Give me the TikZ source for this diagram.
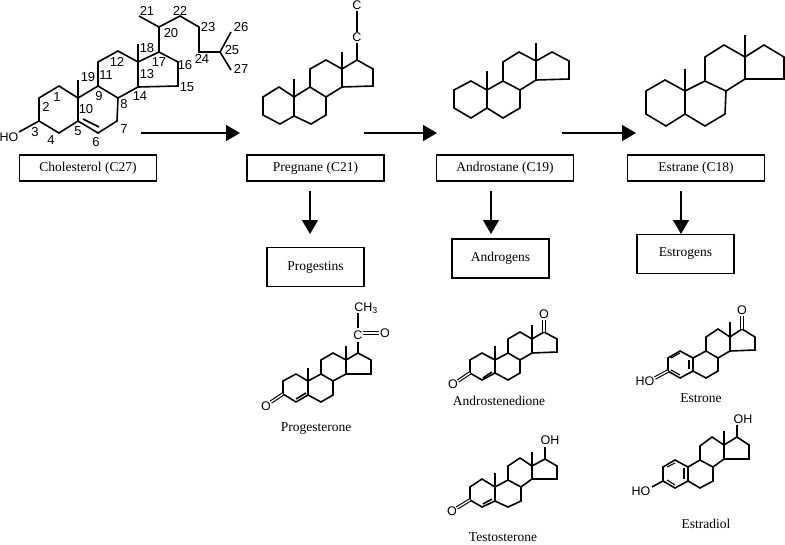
\documentclass[tikz,border=0pt]{standalone}
\usepackage{fontspec}
\setmainfont{Liberation Serif}
\setsansfont{Liberation Sans}
\usetikzlibrary{arrows.meta}
\tikzset{
  box/.style={draw,line width=1.4pt,minimum height=26pt,inner sep=0pt,font=\fontsize{13.5}{14}\selectfont},
  wide/.style={box,minimum width=137pt},
  small/.style={box,minimum width=97pt,minimum height=39pt},
  cpd/.style={inner sep=0pt,font=\fontsize{13.5}{14}\selectfont},
  num/.style={inner sep=0pt,font=\sffamily\fontsize{13}{14}\selectfont},
  atom/.style={inner sep=0pt,font=\sffamily\fontsize{12.5}{13}\selectfont},
  bond/.style={line width=1.6pt,line join=miter},
  thin bond/.style={line width=1.1pt},
  heavy/.style={line width=2.4pt},
  dbl/.style={double,double distance=1.3pt,line width=1.1pt},
  flow/.style={line width=1.4pt,-{Triangle[length=14pt,width=16pt]}}
}
\begin{document}
\begin{tikzpicture}[x=1pt,y=-1pt]
  \useasboundingbox (0,0) rectangle (785,544);

  % Cholesterol
  \draw[bond] (39,121) -- (39,98) -- (59,86) -- (78,98) -- (78,121) -- (59,133) -- cycle;
  \draw[bond] (78,121) -- (98,133) -- (117,121) -- (118,98) -- (98,86) -- (78,98);
  \draw[bond] (98,86) -- (98,62) -- (118,51) -- (138,62) -- (138,87) -- (118,98);
  \draw[bond] (138,62) -- (159,52) -- (178,62) -- (178,86) -- (138,87);
  \draw[heavy] (138,62) -- (138,87);
  \draw[bond] (83,119) -- (99,127);
  \draw[thin bond] (78,98) -- (78,80);
  \draw[thin bond] (138,62) -- (138,44);
  \draw[bond] (159,52) -- (159,27) -- (139,16);
  \draw[bond] (159,27) -- (180,16) -- (199,27) -- (199,52) -- (220,52) -- (231,32);
  \draw[bond] (220,52) -- (231,70);
  \draw[bond] (39,121) -- (19,132);
  \node[atom] (cholOH) at (9,137) {HO};
  \foreach \lab/\px/\py in {1/57/97,2/46/107,3/35/132,4/51/140,5/78/131,6/96/142,7/124/129,
      8/124/104,9/99/96,10/86/109,11/106/75,12/117/62,13/147/74,14/140/96,15/187/87,
      16/185/65,17/159/62,18/147/48,19/88/77,20/171/33,21/147/11,22/180/11,23/208/27,
      24/202/59,25/232/50,26/241/27,27/241/69}
    \node[num] (n\lab) at (\px,\py) {\lab};

  % Pregnane
  \draw[bond] (263,97) -- (279,87) -- (294,97) -- (294,116) -- (280,124) -- (263,115) -- cycle;
  \draw[bond] (294,97) -- (310,87) -- (326,97) -- (326,115) -- (311,124) -- (294,116);
  \draw[bond] (310,87) -- (310,69) -- (326,60) -- (342,69) -- (342,87) -- (326,97);
  \draw[bond] (342,69) -- (357,60) -- (373,69) -- (373,86) -- (342,87) -- cycle;
  \draw[thin bond] (294,97) -- (294,79);
  \draw[thin bond] (342,69) -- (342,52);
  \draw[thin bond] (357,60) -- (357,43);
  \draw[thin bond] (357,32) -- (357,11);
  \node[atom] (pregCa) at (357,37) {C};
  \node[atom] (pregCb) at (357,5) {C};

  % Androstane
  \draw[bond] (454,90) -- (471,81) -- (487,90) -- (487,108) -- (471,118) -- (454,108) -- cycle;
  \draw[bond] (487,90) -- (503,81) -- (520,90) -- (520,108) -- (503,118) -- (487,108);
  \draw[bond] (503,81) -- (503,62) -- (519,52) -- (536,61) -- (536,80) -- (520,90);
  \draw[bond] (536,61) -- (552,52) -- (569,61) -- (569,79) -- (536,80) -- cycle;
  \draw[thin bond] (487,90) -- (487,71);
  \draw[thin bond] (536,61) -- (536,43);

  % Estrane
  \draw[bond] (646,91) -- (665,80) -- (685,91) -- (685,114) -- (666,126) -- (646,114) -- cycle;
  \draw[bond] (685,91) -- (705,81) -- (726,91) -- (725,114) -- (705,126) -- (685,114);
  \draw[bond] (705,81) -- (705,57) -- (724,45) -- (745,57) -- (745,79) -- (726,91);
  \draw[bond] (745,57) -- (764,45) -- (784,57) -- (784,79) -- (745,79) -- cycle;
  \draw[thin bond] (685,91) -- (685,69);
  \draw[thin bond] (745,57) -- (745,35);

  % Progesterone
  \draw[bond] (283,394) -- (283,381) -- (296,374) -- (308,381) -- (308,395) -- (296,402) -- cycle;
  \draw[bond] (308,395) -- (321,402) -- (333,395) -- (333,381) -- (321,374) -- (308,381);
  \draw[bond] (321,374) -- (321,360) -- (333,353) -- (346,360) -- (346,374) -- (333,381);
  \draw[bond] (346,360) -- (358,353) -- (371,360) -- (371,374) -- (346,374) -- cycle;
  \draw[bond] (296,399) -- (306,393);
  \draw[dbl] (283,394) -- (271,402);
  \draw[thin bond] (308,381) -- (308,368);
  \draw[thin bond] (346,360) -- (346,346);
  \draw[thin bond] (358,353) -- (358,342);
  \draw[thin bond] (358,328) -- (358,313);
  \draw[dbl] (363,333) -- (379,333);
  \node[atom] (progO) at (266,406) {O};
  \node[atom] (progC) at (358,335) {C};
  \node[atom] (progOb) at (385,333) {O};
  \node[atom] (progMe) at (366,308) {CH\textsubscript{3}};

  % Androstenedione
  \draw[bond] (470,373) -- (470,360) -- (482,353) -- (495,360) -- (495,373) -- (482,380) -- cycle;
  \draw[bond] (495,373) -- (508,380) -- (520,373) -- (520,360) -- (508,353) -- (495,360);
  \draw[bond] (508,353) -- (508,339) -- (520,332) -- (532,339) -- (532,353) -- (520,360);
  \draw[bond] (532,339) -- (544,332) -- (557,339) -- (557,352) -- (532,353) -- cycle;
  \draw[bond] (483,378) -- (492,372);
  \draw[dbl] (470,373) -- (458,381);
  \draw[dbl] (544,332) -- (544,320);
  \draw[thin bond] (495,360) -- (495,346);
  \draw[thin bond] (532,339) -- (532,325);
  \node[atom] (andrO) at (453,384) {O};
  \node[atom] (andrOb) at (544,314) {O};

  % Testosterone
  \draw[bond] (470,500) -- (470,487) -- (482,479) -- (495,487) -- (495,501) -- (482,507) -- cycle;
  \draw[bond] (495,501) -- (508,507) -- (521,501) -- (521,487) -- (508,480) -- (495,487);
  \draw[bond] (508,480) -- (508,466) -- (520,458) -- (532,466) -- (532,479) -- (521,487);
  \draw[bond] (532,466) -- (545,459) -- (557,466) -- (557,479) -- (532,479) -- cycle;
  \draw[bond] (483,504) -- (492,499);
  \draw[dbl] (470,500) -- (457,508);
  \draw[thin bond] (495,487) -- (495,473);
  \draw[thin bond] (532,466) -- (532,452);
  \draw[thin bond] (545,459) -- (545,447);
  \node[atom] (testO) at (452,511) {O};
  \node[atom] (testOH) at (550,440) {OH};

  % Estrone
  \draw[bond] (668,371) -- (668,358) -- (680,351) -- (693,358) -- (693,371) -- (680,378) -- cycle;
  \draw[bond] (693,371) -- (706,378) -- (718,371) -- (718,358) -- (706,351) -- (693,358);
  \draw[bond] (706,351) -- (706,337) -- (718,329) -- (730,337) -- (730,351) -- (718,358);
  \draw[bond] (730,337) -- (742,329) -- (755,337) -- (755,350) -- (730,351) -- cycle;
  \draw[thin bond] (671,358) -- (680,353);
  \draw[thin bond] (689,360) -- (689,369);
  \draw[thin bond] (671,370) -- (680,375);
  \draw[dbl] (668,371) -- (655,378);
  \draw[dbl] (742,329) -- (742,316);
  \draw[thin bond] (730,337) -- (730,322);
  \node[atom] (estrHO) at (645,381) {HO};
  \node[atom] (estrO) at (742,310) {O};

  % Estradiol
  \draw[bond] (663,481) -- (663,467) -- (675,460) -- (688,467) -- (688,481) -- (675,488) -- cycle;
  \draw[bond] (688,481) -- (700,488) -- (713,481) -- (713,467) -- (700,460) -- (688,467);
  \draw[bond] (700,460) -- (700,446) -- (712,437) -- (724,445) -- (724,459) -- (713,467);
  \draw[bond] (724,445) -- (737,437) -- (749,445) -- (749,459) -- (724,459) -- cycle;
  \draw[thin bond] (667,467) -- (675,463);
  \draw[thin bond] (684,468) -- (684,479);
  \draw[thin bond] (667,480) -- (675,485);
  \draw[bond] (663,481) -- (652,487);
  \draw[thin bond] (724,445) -- (724,431);
  \draw[bond] (737,437) -- (737,425);
  \node[atom] (dialHO) at (641,491) {HO};
  \node[atom] (dialOH) at (743,419) {OH};

  % boxes
  \node[wide] (chol) at (88,168) {Cholesterol (C27)};
  \node[wide] (preg) at (315.5,168) {Pregnane (C21)};
  \node[wide] (andr) at (505,168) {Androstane (C19)};
  \node[wide] (estr) at (696,168) {Estrane (C18)};
  \node[small] (prog) at (315.5,267) {Progestins};
  \node[small] (agen) at (500.5,258.5) {Androgens};
  \node[small] (egen) at (685.5,254) {Estrogens};

  % compound names
  \node[cpd] (nprog) at (316,429) {Progesterone};
  \node[cpd] (nandr) at (499,401) {Androstenedione};
  \node[cpd] (ntest) at (503,537) {Testosterone};
  \node[cpd] (nestr) at (701,398) {Estrone};
  \node[cpd] (ndial) at (706,524) {Estradiol};

  % arrows
  \coordinate (a1) at (141,133); \coordinate (a2) at (240,133);
  \coordinate (b1) at (364,133); \coordinate (b2) at (437,133);
  \coordinate (c1) at (562,133); \coordinate (c2) at (636,133);
  \coordinate (d1) at (310,191); \coordinate (d2) at (310,234);
  \coordinate (e1) at (491,191); \coordinate (e2) at (491,234);
  \coordinate (f1) at (681,191); \coordinate (f2) at (681,234);
  \draw[flow] (a1) -- (a2);
  \draw[flow] (b1) -- (b2);
  \draw[flow] (c1) -- (c2);
  \draw[flow] (d1) -- (d2);
  \draw[flow] (e1) -- (e2);
  \draw[flow] (f1) -- (f2);
\end{tikzpicture}
\end{document}
